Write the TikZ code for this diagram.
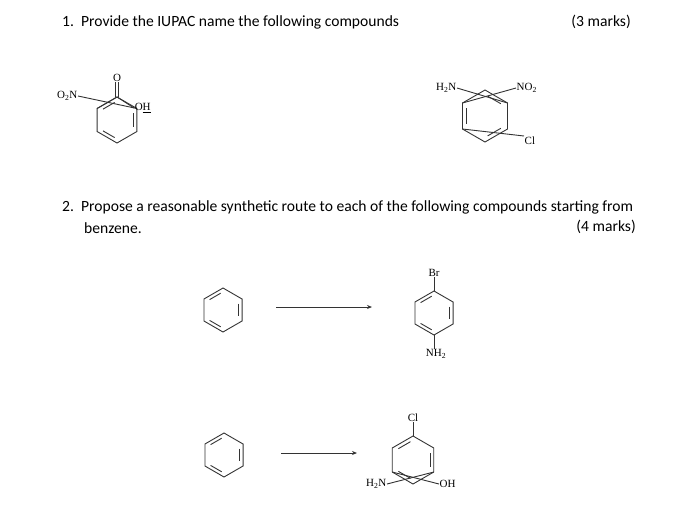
\documentclass[tikz,border=0pt]{standalone}
\usepackage{fontspec}
\setmainfont{Carlito}
\newfontfamily\chemf{Liberation Serif}
\usetikzlibrary{calc,arrows.meta}
\begin{document}
\begin{tikzpicture}[x=1pt,y=-1pt,
  bond/.style={line width=0.9pt,black!80},
  lbl/.style={inner sep=0.5pt,font=\chemf\fontsize{11}{11}\selectfont},
  txt/.style={inner sep=0,anchor=west,font=\fontsize{15.6}{18}\selectfont},
  rtxt/.style={inner sep=0,anchor=east,font=\fontsize{15.6}{18}\selectfont},
  rxn/.style={line width=0.9pt,black!80,-{Stealth[length=5pt,width=4pt]}}]
\useasboundingbox (0,0) rectangle (700,517);
\def\ring#1#2#3#4{%
  \foreach \i in {1,...,6}{\coordinate (#1\i) at ($(#2,#3)+({90-60*(\i-1)}:#4)$);}
  \coordinate (#1c) at (#2,#3);
  \draw[bond] (#11)--(#12)--(#13)--(#14)--(#15)--(#16)--cycle;}
\def\dbl#1#2#3{\draw[bond] ($(#1)!0.2!(#3)!0.12!(#2)$) -- ($(#2)!0.2!(#3)!0.12!(#1)$);}
% numbering: 1 top, 2 upper-right... with y flipped: angle 90 -> y=-R is top
\node[txt] (t1) at (62,22) {1.\ \ Provide the IUPAC name the following compounds};
\node[rtxt] (m1) at (631,22) {(3 marks)};
\node[txt] (t2) at (62,207) {2.\ \ Propose a reasonable synthetic route to each of the following compounds starting from};
\node[txt] (t3) at (84,228) {benzene.};
\node[rtxt] (m2) at (636,227) {(4 marks)};
% molecule 1
\ring{a}{117}{120}{-23}
\dbl{a6}{a5}{ac}\dbl{a1}{a2}{ac}\dbl{a3}{a4}{ac}
\node[lbl,anchor=east] (no2) at (78,96) {O\textsubscript{2}N};
\draw[bond] (a6) -- (no2.east);
\coordinate (cc) at ($(a2)+(20,-11.5)$);
\draw[bond] (a2) -- (cc);
\node[lbl,anchor=south] (ox) at ($(cc)+(0,-15)$) {O};
\draw[bond] ($(cc)+(-1.8,0)$) -- ($(ox.south)+(-1.8,0)$);
\draw[bond] ($(cc)+(1.8,0)$) -- ($(ox.south)+(1.8,0)$);
\node[lbl,anchor=west] (oh) at ($(cc)+(17,11)$) {O\underline{H}};
\draw[bond] (cc) -- (oh.west);
% molecule 2
\ring{b}{485}{116}{-26}
\dbl{b2}{b3}{bc}\dbl{b4}{b5}{bc}\dbl{b6}{b1}{bc}
\node[lbl,anchor=east] (nh2a) at (457,88) {H\textsubscript{2}N};
\draw[bond] (b6) -- (nh2a.east);
\node[lbl,anchor=west] (no2b) at (516,88) {NO\textsubscript{2}};
\draw[bond] (b2) -- (no2b.west);
\node[lbl,anchor=north west] (clb) at (524,136) {Cl};
\draw[bond] (b3) -- (clb.north west);
% route 1
\ring{c}{223}{310}{-22}
\dbl{c6}{c5}{cc}\dbl{c1}{c2}{cc}\dbl{c3}{c4}{cc}
\ring{d}{434}{313}{-22}
\dbl{d6}{d5}{dc}\dbl{d1}{d2}{dc}\dbl{d3}{d4}{dc}
\node[lbl,anchor=south] (br) at (434,277) {Br};
\draw[bond] (d1) -- (br.south);
\node[lbl,anchor=north] (nh2b) at (436,349) {NH\textsubscript{2}};
\draw[bond] (d4) -- (nh2b.north-|d4);
\coordinate (a1s) at (276,307);\coordinate (a1e) at (372,307);
\draw[rxn] (a1s) -- (a1e);
% route 2
\ring{e}{224}{455}{-22}
\dbl{e6}{e5}{ec}\dbl{e1}{e2}{ec}\dbl{e3}{e4}{ec}
\ring{f}{413}{460}{-24}
\dbl{f6}{f5}{fc}\dbl{f1}{f2}{fc}\dbl{f3}{f4}{fc}
\node[lbl,anchor=south] (cl2) at (413,422) {Cl};
\draw[bond] (f1) -- (cl2.south);
\node[lbl,anchor=east] (nh2c) at (387,484) {H\textsubscript{2}N};
\draw[bond] (f5) -- (nh2c.east);
\node[lbl,anchor=west] (ohc) at (439,484) {OH};
\draw[bond] (f3) -- (ohc.west);
\coordinate (a2s) at (281,453);\coordinate (a2e) at (357,453);
\draw[rxn] (a2s) -- (a2e);
\end{tikzpicture}
\end{document}
